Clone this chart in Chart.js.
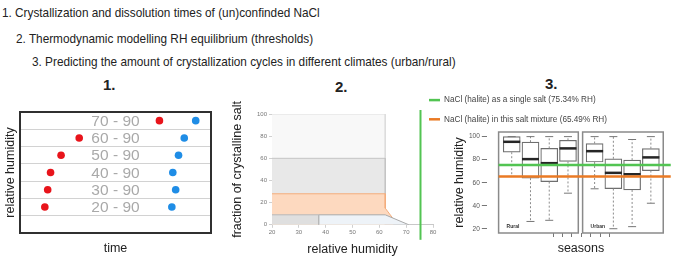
<!DOCTYPE html>
<html>
<head>
<meta charset="utf-8">
<script src="https://cdn.jsdelivr.net/npm/chart.js@4.4.1/dist/chart.umd.min.js"></script>
<style>
  body { margin: 0; width: 685px; height: 257px; overflow: hidden; background: #fff; position: relative;
         font-family: "Liberation Sans", Arial, sans-serif; color: #222; }
  .head { position: absolute; font-size: 13.5px; line-height: 16px; white-space: nowrap;
          transform: scaleX(0.873); transform-origin: 0 0; }
  .num { position: absolute; font-weight: bold; font-size: 15px; line-height: 18px; }
  canvas { position: absolute; }
</style>
</head>
<body>
<div class="head" style="left:2px; top:5px">1. Crystallization and dissolution times of (un)confinded NaCl</div>
<div class="head" style="left:16px; top:31px">2. Thermodynamic modelling RH equilibrium (thresholds)</div>
<div class="head" style="left:32px; top:54px">3. Predicting the amount of crystallization cycles in different climates (urban/rural)</div>
<div class="num" style="left:103px; top:76px">1.</div>
<div class="num" style="left:335px; top:78px">2.</div>
<div class="num" style="left:545px; top:75px">3.</div>
<canvas id="c1" width="218" height="162" style="left:0; top:95px"></canvas>
<canvas id="c2" width="220" height="162" style="left:225px; top:95px"></canvas>
<canvas id="c3" width="267" height="172" style="left:418px; top:85px"></canvas>
<script>
// panel 1 : RH cycles, crystallization (red) and dissolution (blue) times
const rhRanges = ['70 - 90', '60 - 90', '50 - 90', '40 - 90', '30 - 90', '20 - 90', ''];
const crystTimes = [73, 31, 21.5, 16, 14.5, 13];
const dissTimes = [92, 86, 83, 80, 81.5, 79.5];

// panel 2 : fraction of crystalline salt vs RH (outline of each phase area)
const topRH = [20, 62.2, 62.2];
const topFrac = [100, 100, 0];
const midRH = [20, 62.2, 62.2];
const midFrac = [60, 60, 0];
const haliteRH = [20, 62.2, 62.2, 65.3];
const haliteFrac = [28, 28, 15, 5];
const lowGrayRH = [20, 37.4, 37.4];
const lowGrayFrac = [9, 9, 0];
const lowBlueRH = [37.4, 62.2, 71];
const lowBlueFrac = [9, 9, 0];

// panel 3 : RH per season (boxplots)
const seasons = [1, 2, 3, 4];
const ruralMin = [65.5, 26.5, 27.5, 51];
const ruralQ1 = [86.5, 64, 61, 78.5];
const ruralMed = [95.5, 80.5, 77, 89.8];
const ruralQ3 = [100, 95.2, 89.8, 96.8];
const ruralMax = [100, 100, 100, 100];
const urbanMin = [54.8, 20.2, 22, 42.3];
const urbanQ1 = [78, 55, 53.8, 70.6];
const urbanMed = [87.4, 68.6, 67.4, 82];
const urbanQ3 = [94, 80.8, 79.6, 89.6];
const urbanMax = [100, 100, 97.5, 100];
const rhTicks = [20, 40, 60, 80, 100];

// RH thresholds of halite
const thresholds = [75.34, 65.49];
const thresholdLabels = ['NaCl (halite) as a single salt (75.34% RH)', 'NaCl (halite) in this salt mixture (65.49% RH)'];
const thresholdColors = ['#52c452', '#ea7a24'];

// layout of the two boxplot panels on the season axis
const urbanShift = 4.42;
const panels = [
    { name: 'Rural', from: 0.3, to: 4.55 },
    { name: 'Urban', from: 4.78, to: 9.08 }
];

Chart.defaults.font.family = '"Liberation Sans", Arial, sans-serif';
Chart.defaults.animation = false;
Chart.defaults.responsive = false;
Chart.defaults.plugins.tooltip.enabled = false;

// ---------- chart 1 ----------
const rangeLabels = {
    id: 'rangeLabels',
    beforeDatasetsDraw(chart) {
        const { ctx, chartArea: a, scales: { x, y } } = chart;
        ctx.save();
        ctx.font = '15.5px "Liberation Sans", Arial';
        ctx.fillStyle = '#a9a9a9';
        ctx.textAlign = 'center';
        ctx.textBaseline = 'middle';
        rhRanges.forEach((r, i) => ctx.fillText(r, x.getPixelForValue(50), y.getPixelForValue(i) + 1));
        ctx.strokeStyle = '#303030';
        ctx.lineWidth = 2;
        ctx.strokeRect(a.left, a.top, a.width, a.height);
        ctx.restore();
    }
};

new Chart(document.getElementById('c1'), {
    type: 'scatter',
    data: {
        datasets: [{
            label: 'crystallization',
            data: crystTimes.map((t, i) => ({ x: t, y: rhRanges[i] })),
            backgroundColor: '#e8141b',
            pointRadius: 3.8,
            borderWidth: 0
        }, {
            label: 'dissolution',
            data: dissTimes.map((t, i) => ({ x: t, y: rhRanges[i] })),
            backgroundColor: '#1f8de6',
            pointRadius: 3.8,
            borderWidth: 0
        }]
    },
    options: {
        layout: { padding: { left: 1, right: 7, top: 17, bottom: 0 } },
        plugins: { legend: { display: false } },
        scales: {
            x: {
                min: 0, max: 100,
                ticks: { display: false },
                grid: { display: false },
                border: { display: false },
                title: { display: true, text: 'time', color: '#222', font: { size: 12.5 }, padding: { top: 0, bottom: 1 } }
            },
            y: {
                type: 'category',
                labels: rhRanges,
                offset: true,
                ticks: { display: false },
                grid: { offset: true, color: '#d2d2d2', drawTicks: false },
                border: { display: false },
                title: { display: true, text: 'relative humidity', color: '#222', font: { size: 12.5 }, padding: { top: 2, bottom: 2 } }
            }
        }
    },
    plugins: [rangeLabels]
});

// ---------- chart 2 ----------
function area(xs, ys, fill, line) {
    return {
        data: xs.map((v, i) => ({ x: v, y: ys[i] })),
        fill: 'origin',
        backgroundColor: fill,
        borderColor: line,
        borderWidth: 1,
        pointRadius: 0,
        tension: 0
    };
}

const singleSaltLine = {
    id: 'singleSaltLine',
    afterDatasetsDraw(chart) {
        const { ctx, chartArea: a, scales: { x } } = chart;
        const px = x.getPixelForValue(thresholds[0]);
        ctx.save();
        ctx.strokeStyle = thresholdColors[0];
        ctx.lineWidth = 2;
        ctx.beginPath();
        ctx.moveTo(px, a.top - 4);
        ctx.lineTo(px, a.bottom + 15);
        ctx.stroke();
        ctx.restore();
    }
};

new Chart(document.getElementById('c2'), {
    type: 'line',
    data: {
        datasets: [
            area(lowGrayRH, lowGrayFrac, '#dfdfdf', '#b8b8b8'),
            area(lowBlueRH, lowBlueFrac, '#eef3f8', '#a9a9a9'),
            area(haliteRH, haliteFrac, '#fdd9bf', '#f3ad7c'),
            area(midRH, midFrac, '#e8e8e8', '#c4c4c4'),
            area(topRH, topFrac, '#f8f8f8', '#dddddd')
        ]
    },
    options: {
        layout: { padding: { left: 5, right: 12, top: 19, bottom: 0 } },
        plugins: { legend: { display: false } },
        scales: {
            x: {
                type: 'linear', min: 20, max: 80,
                ticks: { stepSize: 10, color: '#777', font: { size: 6 }, padding: 1 },
                grid: { drawOnChartArea: false, tickLength: 3, color: '#d0d0d0' },
                border: { color: '#c8c8c8' },
                title: { display: true, text: 'relative humidity', color: '#222', font: { size: 12.5 }, padding: { top: 5, bottom: 0 } }
            },
            y: {
                min: 0, max: 100,
                ticks: { stepSize: 20, color: '#777', font: { size: 6 }, padding: 2 },
                grid: { drawOnChartArea: false, tickLength: 3, color: '#d0d0d0' },
                border: { display: false },
                title: { display: true, text: 'fraction of crystalline salt', color: '#222', font: { size: 12.5 }, padding: { top: 0, bottom: 10 } }
            }
        }
    },
    plugins: [singleSaltLine]
});

// ---------- chart 3 ----------
const boxExtras = {
    id: 'boxExtras',
    beforeDatasetsDraw(chart) {
        const { ctx, chartArea: a, scales: { x } } = chart;
        ctx.save();
        panels.forEach(p => {
            const l = x.getPixelForValue(p.from), r = x.getPixelForValue(p.to);
            ctx.strokeStyle = '#8a8a8a';
            ctx.lineWidth = 1.5;
            ctx.strokeRect(l, a.top, r - l, a.bottom - a.top);
            ctx.fillStyle = '#333';
            ctx.font = 'bold 5px "Liberation Sans", Arial';
            ctx.fillText(p.name, l + 8, a.bottom - 6);
        });
        ctx.restore();
    },
    afterDatasetDraw(chart, args) {
        const ds = chart.data.datasets[args.index];
        if (!ds.stats) return;
        const { ctx, scales: { y } } = chart;
        const s = ds.stats;
        const seg = (x1, y1, x2, y2) => { ctx.beginPath(); ctx.moveTo(x1, y1); ctx.lineTo(x2, y2); ctx.stroke(); };
        ctx.save();
        args.meta.data.forEach((bar, i) => {
            const cx = bar.x, half = bar.width / 2, cap = 4;
            ctx.strokeStyle = '#8c8c8c';
            ctx.lineWidth = 1;
            ctx.setLineDash([2, 2]);
            seg(cx, y.getPixelForValue(s.q3[i]), cx, y.getPixelForValue(s.max[i]));
            seg(cx, y.getPixelForValue(s.q1[i]), cx, y.getPixelForValue(s.min[i]));
            ctx.setLineDash([]);
            ctx.strokeStyle = '#777';
            seg(cx - cap, y.getPixelForValue(s.max[i]), cx + cap, y.getPixelForValue(s.max[i]));
            seg(cx - cap, y.getPixelForValue(s.min[i]), cx + cap, y.getPixelForValue(s.min[i]));
            ctx.strokeStyle = '#262626';
            ctx.lineWidth = 2.5;
            seg(cx - half, y.getPixelForValue(s.med[i]), cx + half, y.getPixelForValue(s.med[i]));
        });
        ctx.restore();
    }
};

function boxes(label, shift, min, q1, med, q3, max) {
    return {
        label: label,
        data: seasons.map((s, i) => ({ x: s + shift, y: [q1[i], q3[i]] })),
        stats: { min: min, q1: q1, med: med, q3: q3, max: max },
        backgroundColor: '#fff',
        borderColor: '#6e6e6e',
        borderWidth: 1.2,
        borderSkipped: false,
        barThickness: 17,
        grouped: false
    };
}

const xMin3 = panels[0].from, xMax3 = panels[1].to;

new Chart(document.getElementById('c3'), {
    type: 'bar',
    data: {
        datasets: [
            ...thresholds.map((t, i) => ({
                type: 'line',
                label: thresholdLabels[i],
                data: [{ x: xMin3, y: t }, { x: xMax3 + 0.4, y: t }],
                borderColor: thresholdColors[i],
                backgroundColor: thresholdColors[i],
                borderWidth: 2.5,
                pointRadius: 0,
                clip: { left: 0, top: 0, right: 10, bottom: 0 }
            })),
            boxes('Rural', 0, ruralMin, ruralQ1, ruralMed, ruralQ3, ruralMax),
            boxes('Urban', urbanShift, urbanMin, urbanQ1, urbanMed, urbanQ3, urbanMax)
        ]
    },
    options: {
        layout: { padding: { left: 0, right: 10, top: 0, bottom: 1 } },
        plugins: {
            legend: {
                align: 'start',
                maxHeight: 47,
                labels: {
                    filter: item => item.datasetIndex < 2,
                    usePointStyle: true,
                    pointStyle: 'line',
                    pointStyleWidth: 11,
                    color: '#444',
                    font: { size: 8.2 },
                    padding: 11
                }
            }
        },
        scales: {
            x: {
                type: 'linear', min: xMin3, max: xMax3,
                afterBuildTicks: axis => { axis.ticks = seasons.flatMap(s => [s, s + urbanShift]).map(v => ({ value: v })); },
                ticks: { display: false },
                grid: { drawOnChartArea: false, tickLength: 4, color: '#777' },
                border: { display: false },
                title: { display: true, text: 'seasons', color: '#222', font: { size: 12.5 }, padding: { top: 4, bottom: 0 } }
            },
            y: {
                min: 16.5, max: 104,
                afterBuildTicks: axis => { axis.ticks = rhTicks.map(v => ({ value: v })); },
                ticks: { color: '#555', font: { size: 6.5 }, padding: 2 },
                grid: { drawOnChartArea: false, tickLength: 5, color: '#777' },
                border: { display: false },
                title: { display: true, text: 'relative humidity', color: '#222', font: { size: 12.5 }, padding: { top: 34, bottom: 0 } }
            }
        }
    },
    plugins: [boxExtras]
});
</script>
</body>
</html>
